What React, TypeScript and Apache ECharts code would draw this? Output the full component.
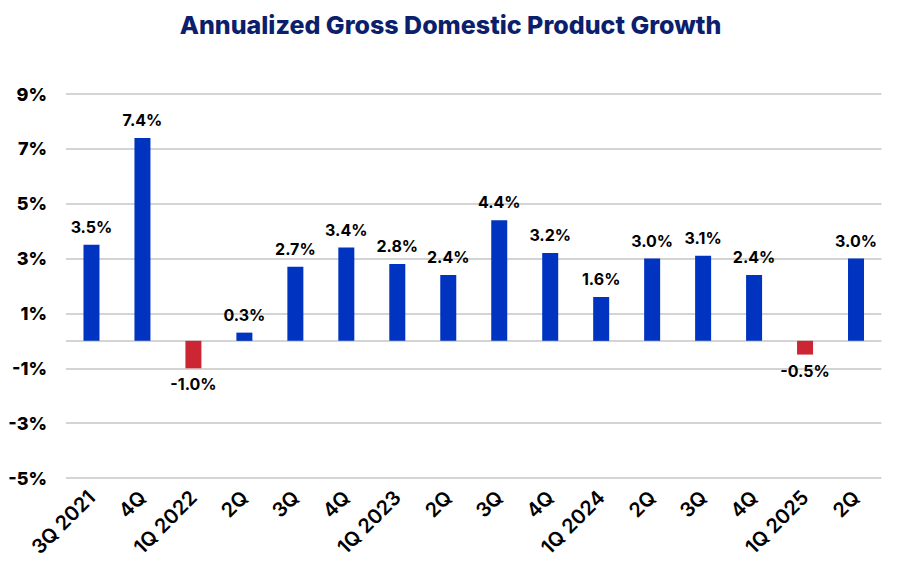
import React, { useEffect, useRef } from "react";
import * as echarts from "echarts";

const quarters = [
  "3Q 2021", "4Q", "1Q 2022", "2Q", "3Q", "4Q", "1Q 2023", "2Q",
  "3Q", "4Q", "1Q 2024", "2Q", "3Q", "4Q", "1Q 2025", "2Q",
];
const gdpGrowth = [3.5, 7.4, -1.0, 0.3, 2.7, 3.4, 2.8, 2.4, 4.4, 3.2, 1.6, 3.0, 3.1, 2.4, -0.5, 3.0];
const yTicks = { min: -5, max: 9, interval: 2 };

const BLUE = "#0033bf";
const RED = "#cc2533";
const FONT = "Inter, 'Noto Sans', sans-serif";

export default function App() {
  const ref = useRef<HTMLDivElement>(null);

  useEffect(() => {
    if (!ref.current) return;
    const chart = echarts.init(ref.current, undefined, { renderer: "svg" });
    chart.setOption({
      animation: false,
      backgroundColor: "#ffffff",
      title: {
        text: "Annualized Gross Domestic Product Growth",
        left: "center",
        top: 7,
        textStyle: { fontFamily: FONT, fontSize: 25, fontWeight: 800, color: "#0c1f6c" },
      },
      grid: { left: 66, right: 19.5, top: 94, bottom: 104 },
      xAxis: {
        type: "category",
        data: quarters,
        position: "bottom",
        axisLine: { show: false },
        axisTick: { show: false },
        axisLabel: {
          interval: 0,
          rotate: 45,
          margin: 16,
          fontFamily: FONT,
          fontSize: 20,
          fontWeight: 600,
          color: "#000000",
        },
      },
      yAxis: {
        type: "value",
        min: yTicks.min,
        max: yTicks.max,
        interval: yTicks.interval,
        axisLine: { show: false },
        axisTick: { show: false },
        splitLine: { lineStyle: { color: "#d4d4d4", width: 2 } },
        axisLabel: {
          margin: 19,
          fontFamily: FONT,
          fontSize: 18,
          fontWeight: 800,
          color: "#000000",
          formatter: (v: number) => `${v}%`,
        },
      },
      series: [
        {
          type: "bar",
          barWidth: 16,
          data: gdpGrowth.map((v) => ({
            value: v,
            itemStyle: { color: v < 0 ? RED : BLUE },
            label: { position: v < 0 ? "bottom" : "top", distance: v < 0 ? 8 : 10 },
          })),
          label: {
            show: true,
            fontFamily: FONT,
            fontSize: 16,
            fontWeight: 700,
            color: "#000000",
            formatter: (p: any) => `${Number(p.value).toFixed(1)}%`,
          },
          markLine: {
            silent: true,
            symbol: "none",
            label: { show: false },
            lineStyle: { color: "#d4d4d4", width: 2, type: "solid" },
            data: [{ yAxis: 0 }],
            z: 1,
          },
        },
      ],
    });
    return () => chart.dispose();
  }, []);

  return (
    <div
      ref={ref}
      style={{ position: "fixed", left: 0, top: 0, width: 901, height: 582, background: "#fff" }}
    />
  );
}
